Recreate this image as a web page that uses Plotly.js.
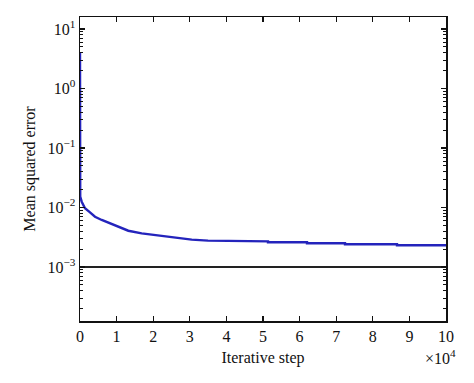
<!DOCTYPE html>
<html>
<head>
<meta charset="utf-8">
<script src="https://cdn.plot.ly/plotly-3.0.1.min.js"></script>
<style>html,body{margin:0;padding:0;background:#fff;}</style>
</head>
<body>
<div id="chart" style="width:474px;height:383px;"></div>
<script>
// Iterative step vs mean squared error
const steps = [0, 60, 464, 1366, 2732, 4098, 5929, 7732, 10464, 13197, 16858, 21393, 25956, 30519,
  34973, 41803, 41803, 51366, 51366, 62022, 62022, 72404, 72404, 86612, 86612, 100000];
const mse = [3.95, 0.0152, 0.01252, 0.0097, 0.0083, 0.0070, 0.00617, 0.00555, 0.00465, 0.00407, 0.00368, 0.00336, 0.00311, 0.00288,
  0.00277, 0.00277, 0.0027, 0.0027, 0.0026, 0.0026, 0.0025, 0.0025, 0.00241, 0.00241, 0.00232, 0.00232];
const targetX = [0, 100000];
const targetY = [0.001, 0.001];
const xTickVals = [0, 10000, 20000, 30000, 40000, 50000, 60000, 70000, 80000, 90000, 100000];
const xTickText = ['0', '1', '2', '3', '4', '5', '6', '7', '8', '9', '10'];
const yTickVals = [0.001, 0.01, 0.1, 1, 10];
const yTickText = ['10<sup>\u22123</sup>', '10<sup>\u22122</sup>', '10<sup>\u22121</sup>', '10<sup>0</sup>', '10<sup>1</sup>'];

const minorVals = [];
[0.0001, 0.001, 0.01, 0.1, 1, 10].forEach(d => { for (let k = 2; k <= 9; k++) minorVals.push(d * k); });

const font = {family: 'Liberation Serif, Times New Roman, serif', size: 16, color: '#111'};

const traces = [
  {x: targetX, y: targetY, mode: 'lines', line: {color: '#222', width: 2}, hoverinfo: 'skip'},
  {x: steps, y: mse, mode: 'lines', line: {color: '#2424bc', width: 2.4}}
];

const layout = {
  width: 474, height: 383,
  margin: {l: 80, r: 28, t: 17, b: 62},
  paper_bgcolor: '#fff', plot_bgcolor: '#fff',
  showlegend: false,
  font: font,
  xaxis: {
    range: [0, 100000],
    tickvals: xTickVals, ticktext: xTickText,
    ticks: 'inside', ticklen: 5, tickwidth: 1.2, tickcolor: '#111',
    showline: true, linecolor: '#111', linewidth: 1.5, mirror: 'ticks',
    showgrid: false, zeroline: false,
    tickfont: font,
    title: {text: 'Iterative step', font: font, standoff: 8}
  },
  yaxis: {
    type: 'log',
    range: [-3.9076, 1.2017],
    tickvals: yTickVals, ticktext: yTickText,
    ticks: 'inside', ticklen: 5, tickwidth: 1.2, tickcolor: '#111',
    showline: true, linecolor: '#111', linewidth: 1.5, mirror: 'ticks',
    showgrid: false, zeroline: false,
    tickfont: font,
    minor: {tickvals: minorVals, ticks: 'inside', ticklen: 3, tickwidth: 1, tickcolor: '#111', showgrid: false},
    title: {text: 'Mean squared error', font: font, standoff: 8}
  },
  annotations: [{
    xref: 'paper', yref: 'paper', x: 0.985, y: -0.078,
    text: '\u00d710<sup>4</sup>', showarrow: false, font: font,
    xanchor: 'center', yanchor: 'top'
  }]
};

Plotly.newPlot('chart', traces, layout, {displayModeBar: false, staticPlot: true});
</script>
</body>
</html>
